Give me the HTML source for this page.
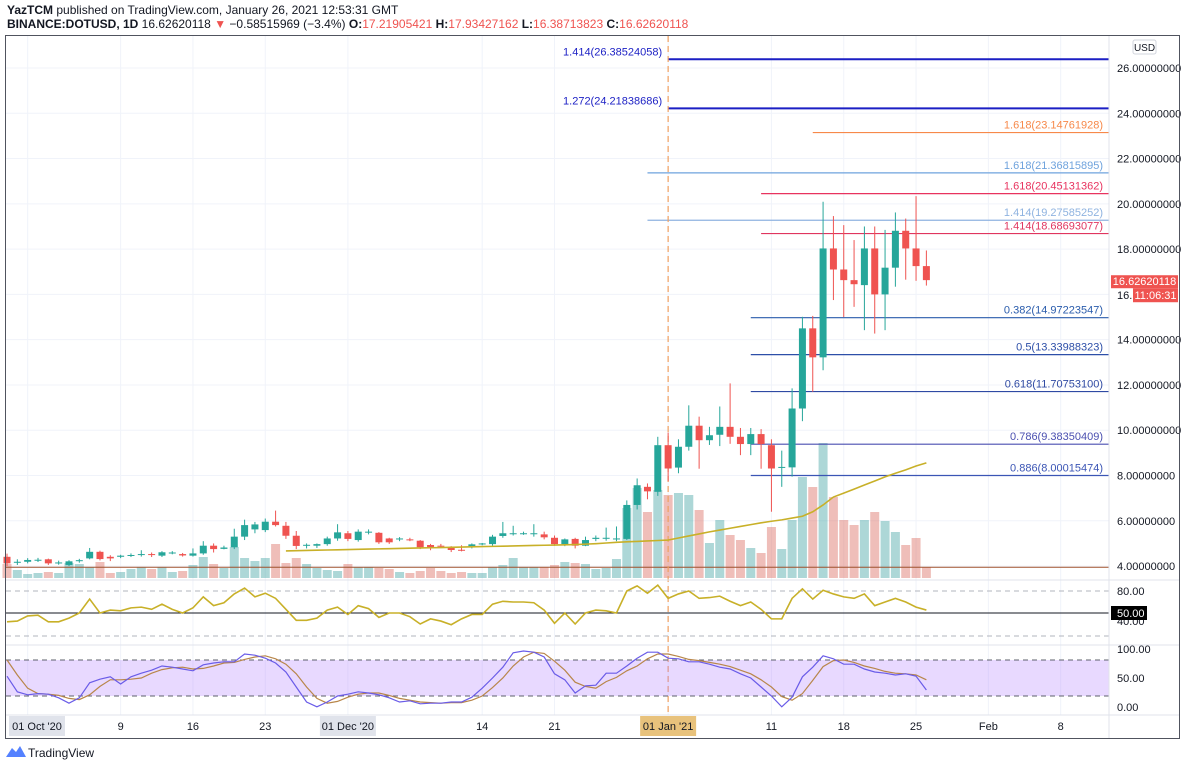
<!DOCTYPE html>
<html><head><meta charset="utf-8">
<style>
html,body{margin:0;padding:0;background:#fff;width:1185px;height:768px;overflow:hidden;font-family:"Liberation Sans",sans-serif;}
svg text{font-family:"Liberation Sans",sans-serif;}
</style></head>
<body>
<svg id="chart" width="1185" height="768" viewBox="0 0 1185 768" xmlns="http://www.w3.org/2000/svg">
<text x="7" y="14" font-size="12" fill="#131722"><tspan font-weight="bold">YazTCM</tspan> published on TradingView.com, January 26, 2021 12:53:31 GMT</text>
<text x="7" y="28" font-size="12" fill="#131722"><tspan font-weight="bold">BINANCE:DOTUSD, 1D</tspan> 16.62620118 <tspan fill="#ef5350">▼</tspan> −0.58515969 (−3.4%) <tspan font-weight="bold">O:</tspan><tspan fill="#ef5350">17.21905421</tspan> <tspan font-weight="bold">H:</tspan><tspan fill="#ef5350">17.93427162</tspan> <tspan font-weight="bold">L:</tspan><tspan fill="#ef5350">16.38713823</tspan> <tspan font-weight="bold">C:</tspan><tspan fill="#ef5350">16.62620118</tspan></text>
<g id="grid"></g>
<g id="main"></g>
<g id="ind"></g>
<g id="axes"></g>
<rect x="5.5" y="35.5" width="1174" height="703" fill="none" stroke="#50535e" stroke-width="1"/>
<g>
<path d="M6 757 L12 748 L16 752 L20 746 L26 757 Z" fill="#2962ff" opacity="0.8"/>
<text x="28" y="757" font-size="12" fill="#131722">TradingView</text>
</g>
</svg>
<script>
// ---------- data ----------
const firstDay = -3; // day index relative to 01 Nov 2020
const opens  = [4.41,4.17,4.19,4.27,4.30,4.14,4.05,4.22,4.34,4.63,4.41,4.41,4.45,4.50,4.53,4.46,4.58,4.53,4.46,4.56,4.90,4.76,4.83,5.30,5.62,5.59,5.96,5.78,5.34,4.92,4.90,4.97,5.22,5.45,5.15,5.50,5.47,5.22,5.20,5.18,5.12,4.93,4.90,4.83,4.72,4.83,4.98,4.97,5.33,5.45,5.45,5.45,5.40,5.25,4.97,5.20,4.90,5.20,5.25,5.22,5.20,6.70,7.50,7.28,9.34,8.35,9.27,10.20,9.56,9.80,10.15,9.71,9.39,9.83,9.34,8.35,8.36,10.96,14.50,13.22,18.03,17.10,16.63,16.41,18.03,16.00,17.18,18.81,18.03,17.25];
const closes = [4.12,4.19,4.27,4.28,4.12,4.16,4.21,4.26,4.63,4.31,4.34,4.46,4.49,4.53,4.49,4.61,4.60,4.47,4.56,4.90,4.75,4.82,5.30,5.81,5.84,5.96,5.81,5.34,4.89,4.94,4.97,5.22,5.49,5.20,5.52,5.52,5.05,5.05,5.22,5.16,4.83,4.83,4.88,4.71,4.70,4.96,5.00,5.30,5.45,5.45,5.45,5.45,5.27,4.97,5.18,4.90,5.15,5.25,5.25,5.22,6.70,7.57,7.30,9.34,8.31,9.27,10.20,9.56,9.78,10.15,9.71,9.39,9.83,9.39,8.31,8.38,10.96,14.50,13.22,18.03,17.10,16.63,16.45,18.03,16.00,17.18,18.81,18.03,17.25,16.63];
const highs  = [4.55,4.30,4.35,4.36,4.33,4.24,4.26,4.32,4.80,4.68,4.48,4.50,4.56,4.70,4.60,4.66,4.66,4.58,4.78,5.10,5.00,4.90,5.65,6.05,5.95,6.10,6.45,5.95,5.55,5.00,5.00,5.30,5.85,5.55,5.62,5.62,5.50,5.25,5.28,5.25,5.15,4.98,4.98,4.88,4.92,5.00,5.02,5.38,5.95,5.78,5.52,5.85,5.52,5.35,5.22,5.25,5.30,5.35,5.70,5.75,6.90,7.87,7.65,9.71,9.90,9.60,11.10,10.60,10.15,11.05,12.07,10.10,10.10,10.05,9.60,9.10,11.85,15.01,15.05,20.09,19.46,19.06,18.40,19.00,19.00,18.85,19.62,19.35,20.34,17.94];
const lows   = [4.00,4.05,4.12,4.18,4.05,4.06,4.00,4.15,4.30,4.25,4.22,4.35,4.40,4.42,4.40,4.40,4.52,4.42,4.42,4.50,4.60,4.74,4.75,5.15,5.45,5.50,5.75,5.20,4.75,4.78,4.80,4.90,5.12,5.10,5.08,5.40,4.98,4.98,5.10,5.10,4.75,4.70,4.80,4.62,4.65,4.78,4.92,4.90,5.25,5.35,5.38,5.30,5.18,4.90,4.88,4.78,4.88,5.10,5.12,5.10,5.15,6.50,6.95,7.10,7.75,8.10,9.10,8.30,9.35,9.30,9.40,8.90,8.90,8.30,6.40,7.50,7.95,10.40,11.70,12.65,15.75,15.00,15.45,14.42,14.27,14.42,16.34,16.65,16.60,16.39];
const volumes = [14,8,4,5,6,5,15,14,11,16,5,6,9,11,9,11,6,7,13,21,14,10,31,20,17,20,34,15,20,14,10,8,7,14,11,11,10,9,6,5,7,10,7,5,6,5,5,11,13,20,11,11,11,13,16,15,14,9,10,19,70,90,66,88,83,85,83,68,35,58,43,38,30,25,51,29,58,101,91,135,81,58,53,58,66,57,46,33,40,11];
const maFirstDay = 24;
const maValues = [4.67,4.68,4.69,4.70,4.71,4.72,4.73,4.74,4.75,4.76,4.77,4.78,4.79,4.80,4.81,4.82,4.83,4.84,4.85,4.86,4.87,4.88,4.89,4.90,4.91,4.92,4.93,4.94,4.95,4.97,4.99,5.02,5.05,5.07,5.09,5.11,5.13,5.15,5.24,5.33,5.42,5.51,5.59,5.67,5.75,5.83,5.91,5.98,6.04,6.12,6.20,6.40,6.70,7.05,7.22,7.40,7.58,7.76,7.94,8.10,8.25,8.42,8.56];
const rsiValues = [38,39,46,47,38,38,43,50,69,50,54,53,57,58,55,62,55,50,57,72,60,64,76,84,72,77,70,55,40,40,43,54,58,48,60,56,44,50,50,45,35,42,39,34,42,48,48,62,66,65,65,64,54,36,50,35,50,54,53,50,80,87,77,88,70,76,80,70,71,73,66,60,65,55,42,42,70,83,69,81,76,72,70,76,60,65,70,65,58,54];
const stochK = [53,27,22,24,23,17,8,17,42,48,52,40,52,58,63,70,68,65,62,72,75,77,77,90,88,83,75,60,35,10,2,10,20,23,27,25,22,17,10,12,7,8,8,10,10,18,33,50,68,92,95,93,85,57,47,25,37,38,58,58,70,83,93,93,83,82,77,77,73,68,65,57,50,35,20,2,18,52,68,87,82,73,73,65,60,58,55,57,53,30];
const stochD = [80,55,33,24,23,21,16,14,22,36,47,47,48,50,58,64,67,68,65,66,70,75,76,81,85,87,82,73,57,35,16,8,11,18,23,25,25,21,16,13,10,9,8,9,9,13,20,34,50,70,85,93,91,78,63,43,36,33,44,51,62,70,82,90,90,86,81,79,76,73,69,63,57,47,35,19,13,24,46,69,79,80,76,70,66,61,58,57,55,47];
const fibRatios = ["1.414","1.272","1.618","1.618","1.618","1.414","1.414","0.382","0.5","0.618","0.786","0.886"];
const fibPrices = [26.38524058,24.21838686,23.14761928,21.36815895,20.45131362,19.27585252,18.68693077,14.97223547,13.33988323,11.70753100,9.38350409,8.00015474];
const fibStartDay = [61,61,75,59,70,59,70,69,69,69,69,69];
const fibColors = ["#1b1fc4","#1b1fc4","#f7894a","#6fa3dd","#e8335f","#8fb3e0","#e0355f","#2a5cac","#2d4fa8","#2f4aa3","#4a4fb0","#3b55b5"];
const priceTicks = [26,24,22,20,18,14,12,10,8,6,4];
const xTickDays = [8,15,22,43,50,71,78,85,92,99];
const xTickLabels = ["9","16","23","14","21","11","18","25","Feb","8"];
// ---------- scales ----------
const NS="http://www.w3.org/2000/svg";
function xDay(d){return 38+10.33*d;}
function yP(p){return 68+(26-p)*22.64;}
function yRsi(v){return 613-(v-50)*0.733;}
function yStoch(v){return 708-v*0.6;}
function mk(tag,attrs,parent){const e=document.createElementNS(NS,tag);for(const k in attrs)e.setAttribute(k,attrs[k]);parent.appendChild(e);return e;}
const grid=document.getElementById('grid'),main=document.getElementById('main'),ind=document.getElementById('ind'),axes=document.getElementById('axes');
const R=1109;
priceTicks.concat([16]).forEach(p=>{const l=mk('line',{x1:6,x2:R,y1:yP(p),y2:yP(p),stroke:'#f0f3fa'},grid);

});
xTickDays.concat([-1,30,61]).forEach(d=>{const l=mk('line',{x1:xDay(d),x2:xDay(d),y1:36,y2:715,stroke:'#f0f3fa'},grid);

});
volumes.forEach((v,k)=>{const d=firstDay+k;const up=closes[k]>=opens[k];
const b=mk('rect',{x:xDay(d)-4.5,y:578-v,width:9,height:v,fill:up?'rgba(60,160,160,0.42)':'rgba(220,110,100,0.45)'},main);

});
const bl=mk('line',{x1:6,x2:R,y1:yP(3.95),y2:yP(3.95),stroke:'#a0522d','stroke-width':1},main);


fibPrices.forEach((p,k)=>{const y=yP(p),x0=xDay(fibStartDay[k]);
const l=mk('line',{x1:x0,x2:R,y1:y,y2:y,stroke:fibColors[k],'stroke-width':k<2?2:1.2},main);


const label=fibRatios[k]+'('+p.toFixed(8)+')';
const t=mk('text',{'font-size':11,fill:fibColors[k]},main);
if(k<2){t.setAttribute('x',x0-6);t.setAttribute('y',y-4);t.setAttribute('text-anchor','end');}
else{t.setAttribute('x',R-6);t.setAttribute('y',y-4);t.setAttribute('text-anchor','end');}
t.textContent=label;

});
const vl=mk('line',{x1:xDay(61),x2:xDay(61),y1:36,y2:715,stroke:'#f0a060','stroke-width':1.2,'stroke-dasharray':'6 4'},main);


opens.forEach((o,k)=>{const d=firstDay+k,c=closes[k],x=xDay(d);const up=c>=o;const col=up?'#26a69a':'#ef5350';
const w=mk('line',{x1:x,x2:x,y1:yP(highs[k]),y2:yP(lows[k]),stroke:col,'stroke-width':1},main);


const top=yP(Math.max(o,c)),h=Math.max(1,Math.abs(yP(o)-yP(c)));
const b=mk('rect',{x:x-3.5,y:top,width:7,height:h,fill:col},main);

});
const maPts=maValues.map((v,k)=>xDay(maFirstDay+k)+','+yP(v)).join(' ');
const ma=mk('polyline',{points:maPts,fill:'none',stroke:'#c8b028','stroke-width':1.6},main);


[580,645].forEach(y=>{const s=mk('line',{x1:6,x2:1180,y1:y,y2:y,stroke:'#e0e3eb'},ind);

});
[591,636].forEach(y=>{const s=mk('line',{x1:6,x2:R,y1:y,y2:y,stroke:'#b2b5be','stroke-dasharray':'5 4'},ind);

});
const mid=mk('line',{x1:6,x2:R,y1:yRsi(50),y2:yRsi(50),stroke:'#131722','stroke-width':1},ind);


const rsi=mk('polyline',{points:rsiValues.map((v,k)=>xDay(firstDay+k)+','+yRsi(v)).join(' '),fill:'none',stroke:'#c8b028','stroke-width':1.6},ind);


const band=mk('rect',{x:6,y:yStoch(80),width:R-6,height:yStoch(20)-yStoch(80),fill:'rgba(180,130,255,0.3)'},ind);


[80,20].forEach(v=>{const s=mk('line',{x1:6,x2:R,y1:yStoch(v),y2:yStoch(v),stroke:'#5d606b','stroke-dasharray':'5 4'},ind);

});
const sd=mk('polyline',{points:stochD.map((v,k)=>xDay(firstDay+k)+','+yStoch(v)).join(' '),fill:'none',stroke:'#b8864a','stroke-width':1.2},ind);


const sk=mk('polyline',{points:stochK.map((v,k)=>xDay(firstDay+k)+','+yStoch(v)).join(' '),fill:'none',stroke:'#6a5ce8','stroke-width':1.2},ind);


const ax=mk('line',{x1:R,x2:R,y1:36,y2:738,stroke:'#e0e3eb'},axes);


const bx=mk('line',{x1:6,x2:1180,y1:715,y2:715,stroke:'#e0e3eb'},axes);


priceTicks.forEach(p=>{const t=mk('text',{x:1117,y:yP(p)+4,'font-size':11,fill:'#131722'},axes);t.textContent=p.toFixed(8);

});
const usd=mk('rect',{x:1133,y:40,width:23,height:14,rx:2,fill:'#fff',stroke:'#d1d4dc'},axes);


const usdt=mk('text',{x:1144.5,y:51,'font-size':10,'text-anchor':'middle',fill:'#131722'},axes);usdt.textContent='USD';


const tag=mk('rect',{x:1111,y:yP(16.626)-5,width:67,height:13,fill:'#ef5350'},axes);


const tagt=mk('text',{x:1144.5,y:yP(16.626)+5,'font-size':11,'text-anchor':'middle',fill:'#fff'},axes);tagt.textContent='16.62620118';


const t16=mk('text',{x:1117,y:yP(16.626)+19,'font-size':11,fill:'#131722'},axes);t16.textContent='16.';


const cd=mk('rect',{x:1133,y:yP(16.626)+8,width:45,height:14,fill:'#ef5350'},axes);


const cdt=mk('text',{x:1155.5,y:yP(16.626)+19,'font-size':11,'text-anchor':'middle',fill:'#fff'},axes);cdt.textContent='11:06:31';


[['80.00',595],['40.00',625],['100.00',653],['50.00',682],['0.00',711]].forEach(a=>{const t=mk('text',{x:1117,y:a[1],'font-size':11,fill:'#131722'},axes);t.textContent=a[0];

});
const rb=mk('rect',{x:1111,y:606,width:36,height:14,fill:'#000'},axes);


const rbt=mk('text',{x:1117,y:617,'font-size':11,fill:'#fff'},axes);rbt.textContent='50.00';


xTickDays.forEach((d,k)=>{const t=mk('text',{x:xDay(d),y:730,'font-size':11,'text-anchor':'middle',fill:'#131722'},axes);t.textContent=xTickLabels[k];

});
[['01 Oct \'20',-0.1,'#e0e3eb'],['01 Dec \'20',30,'#e0e3eb'],['01 Jan \'21',61,'#e8c27c']].forEach(a=>{const cx=a[1]===-0.1?37:xDay(a[1]);
const r=mk('rect',{x:cx-28,y:716,width:56,height:20,fill:a[2]},axes);


const t=mk('text',{x:cx,y:730,'font-size':11,'text-anchor':'middle',fill:'#131722'},axes);t.textContent=a[0];

});
</script>
</body></html>
